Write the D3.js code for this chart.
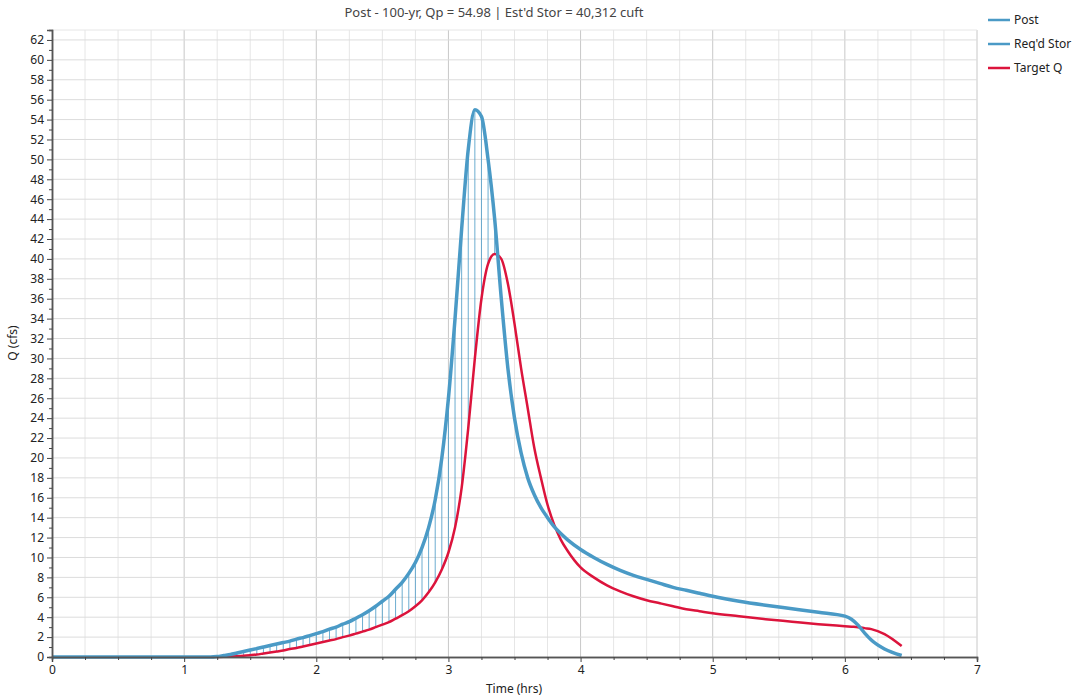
<!DOCTYPE html><html><head><meta charset="utf-8"><script src="https://cdn.jsdelivr.net/npm/d3@7"></script>
<style>body{margin:0;background:#fff}text{font-family:"Noto Sans","Open Sans",sans-serif}</style></head><body><svg id="c" width="1077" height="698"></svg>
<script>
const times=[0,1.2,1.25,1.3,1.35,1.4,1.45,1.5,1.55,1.6,1.65,1.7,1.75,1.8,1.85,1.9,1.95,2.0,2.05,2.1,2.15,2.2,2.25,2.3,2.35,2.4,2.45,2.5,2.55,2.6,2.65,2.7,2.75,2.8,2.85,2.9,2.95,3.0,3.05,3.1,3.15,3.2,3.25,3.3,3.35,3.4,3.45,3.5,3.55,3.6,3.65,3.7,3.75,3.8,3.85,3.9,4.0,4.1,4.2,4.3,4.4,4.5,4.6,4.7,4.8,4.9,5.0,5.2,5.4,5.6,5.8,6.0,6.05,6.1,6.15,6.2,6.3,6.43];
const post=[0,0,0.05,0.15,0.25,0.4,0.55,0.7,0.85,1.0,1.15,1.3,1.45,1.6,1.8,1.95,2.15,2.35,2.55,2.8,3.0,3.3,3.55,3.9,4.25,4.65,5.1,5.6,6.1,6.8,7.5,8.4,9.5,11,13,15.8,20,26,34,43,51,54.98,54.3,50,44,36,29,24,20.5,18,16.3,15,14,13.1,12.4,11.8,10.8,10,9.3,8.7,8.2,7.8,7.4,7.0,6.7,6.4,6.1,5.6,5.2,4.85,4.5,4.1,3.8,3.2,2.4,1.7,0.8,0.15];
const target=[null,null,0,0.02,0.05,0.08,0.12,0.18,0.25,0.35,0.45,0.55,0.65,0.8,0.9,1.05,1.2,1.35,1.5,1.65,1.8,2.0,2.15,2.35,2.55,2.75,3.0,3.25,3.5,3.85,4.2,4.6,5.1,5.7,6.5,7.5,8.8,10.5,13,17,23,30,36,39.5,40.5,40,37.5,33.5,29,25,21,18,15.3,13.3,11.8,10.7,9.0,8.0,7.2,6.6,6.1,5.7,5.4,5.1,4.8,4.6,4.4,4.1,3.8,3.55,3.3,3.1,3.05,3.0,2.9,2.8,2.3,1.1];
const xTicks=[0,1,2,3,4,5,6,7];
const yTicks=d3.range(0,63,2);
const title="Post - 100-yr, Qp = 54.98 | Est'd Stor = 40,312 cuft";
const series=[{name:"Post",color:"#4a9ac6"},{name:"Req'd Stor",color:"#4a9ac6"},{name:"Target Q",color:"#dc143c"}];

const svg=d3.select("#c");
const L=52,R=977,T=30,B=657;
const x=d3.scaleLinear().domain([0,7]).range([L,R]);
const y=d3.scaleLinear().domain([0,63.0]).range([B,T]);
const g=svg.append("g");
// minor grid
g.selectAll(".vx").data(d3.range(0.25,7.01,0.25)).join("line").attr("x1",d=>x(d)).attr("x2",d=>x(d)).attr("y1",T).attr("y2",B)
 .attr("stroke",d=>Math.abs(d-Math.round(d))<1e-6?"#c8c8c8":"#e6e6e6").attr("stroke-width",1);
g.selectAll(".hy").data(yTicks.slice(1)).join("line").attr("x1",L).attr("x2",R).attr("y1",d=>y(d)).attr("y2",d=>y(d)).attr("stroke","#dcdcdc");
g.append("line").attr("x1",L).attr("x2",R).attr("y1",T).attr("y2",T).attr("stroke","#e6e6e6");
// hatch
const idx=d3.range(times.length).filter(i=>target[i]!=null&&post[i]>target[i]&&times[i]<3.76);
g.selectAll(".h").data(idx).join("line").attr("x1",i=>x(times[i])).attr("x2",i=>x(times[i])).attr("y1",i=>y(post[i])).attr("y2",i=>y(target[i])).attr("stroke","#4a9ac6").attr("stroke-width",1).attr("opacity",0.8);
const pd=times.map((t,i)=>[t,post[i]]);
const td=times.map((t,i)=>[t,target[i]]).filter(d=>d[1]!=null);
const line=d3.line().x(d=>x(d[0])).y(d=>y(d[1])).curve(d3.curveMonotoneX);
g.append("path").attr("d",line(td)).attr("fill","none").attr("stroke","#dc143c").attr("stroke-width",2.5);
g.append("path").attr("d",line(pd)).attr("fill","none").attr("stroke","#4a9ac6").attr("stroke-width",3.5);
// axes
const xa=svg.append("g").attr("transform",`translate(0,${B})`).call(d3.axisBottom(x).tickValues(xTicks).tickFormat(d3.format("d")).tickSize(5));
svg.append("g").attr("transform",`translate(0,${B})`).call(d3.axisBottom(x).tickValues(d3.range(0.25,7,0.25).filter(d=>d%1)).tickFormat("").tickSize(3));
const ya=svg.append("g").attr("transform",`translate(${L},0)`).call(d3.axisLeft(y).tickValues(yTicks).tickFormat(d3.format("d")).tickSize(5));
svg.append("g").attr("transform",`translate(${L},0)`).call(d3.axisLeft(y).tickValues(d3.range(1,63,2)).tickFormat("").tickSize(3));
svg.selectAll(".domain").attr("stroke","#555").attr("stroke-width",1.5);
svg.selectAll(".tick line").attr("stroke","#444");
svg.selectAll(".tick text").attr("font-size",12).attr("fill","#222");
svg.append("text").attr("x",514).attr("y",693).attr("text-anchor","middle").attr("font-size",12).attr("fill","#222").text("Time (hrs)");
svg.append("text").attr("transform","translate(17,343) rotate(-90)").attr("text-anchor","middle").attr("font-size",12).attr("fill","#222").text("Q (cfs)");
svg.append("text").attr("x",494).attr("y",17).attr("text-anchor","middle").attr("font-size",13).attr("fill","#444").text(title);
const lg=svg.append("g").selectAll("g").data(series).join("g").attr("transform",(d,i)=>`translate(988,${20+i*24})`);
lg.append("line").attr("x1",0).attr("x2",22).attr("stroke",d=>d.color).attr("stroke-width",2.5);
lg.append("text").attr("x",26).attr("y",4).attr("font-size",12).attr("fill","#222").text(d=>d.name);
</script></body></html>
